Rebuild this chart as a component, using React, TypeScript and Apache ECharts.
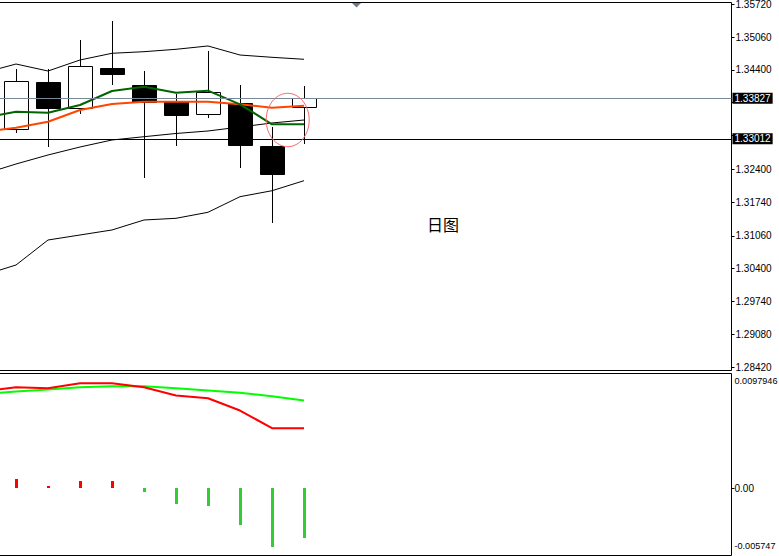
import React, { useEffect, useRef } from 'react';
import * as echarts from 'echarts';

// ---- candles (bars 0..9) ----
const barX = [0, 1, 2, 3, 4, 5, 6, 7, 8, 9];
const opens = [1.33204, 1.34156, 1.33639, 1.34432, 1.34096, 1.33774, 1.33506, 1.33727, 1.32868, 1.33647];
const closes = [1.34176, 1.33639, 1.34478, 1.34323, 1.33760, 1.33498, 1.33949, 1.32894, 1.32299, 1.33827];
const lows = [1.33136, 1.32854, 1.33518, 1.34096, 1.32230, 1.32874, 1.33438, 1.32431, 1.31324, 1.32902];
const highs = [1.34418, 1.34412, 1.35001, 1.35384, 1.34377, 1.33909, 1.34780, 1.34096, 1.33256, 1.34076];

// ---- indicators (bars -1..9, bar -1 is off-screen) ----
const lineX = [-1, 0, 1, 2, 3, 4, 5, 6, 7, 8, 9];
const bbUpper = [1.34345, 1.34518, 1.34377, 1.34599, 1.34734, 1.34766, 1.34814, 1.34881, 1.34699, 1.34653, 1.34613];
const bbMiddle = [1.32305, 1.32506, 1.32687, 1.32848, 1.32989, 1.33055, 1.33120, 1.33170, 1.33250, 1.33331, 1.33391];
const bbLower = [1.30272, 1.30473, 1.30976, 1.31077, 1.31178, 1.31379, 1.31413, 1.31534, 1.31848, 1.31968, 1.32170];
const maGreen = [1.33432, 1.33558, 1.33538, 1.33693, 1.33975, 1.34061, 1.33941, 1.33981, 1.33707, 1.33305, 1.33305];
const maOrange = [1.33150, 1.33236, 1.33357, 1.33593, 1.33713, 1.33760, 1.33760, 1.33760, 1.33707, 1.33639, 1.33679];

const oscRed = [0.008258, 0.008625, 0.008539, 0.008966, 0.008966, 0.008625, 0.007916, 0.007686, 0.006635, 0.005124, 0.005124];
const oscGreen = [0.008044, 0.008258, 0.008428, 0.008625, 0.008710, 0.008710, 0.008539, 0.008343, 0.008147, 0.007856, 0.007489];
const oscHist = [0.000769, 0.000196, 0.000598, 0.000598, -0.000342, -0.001366, -0.001537, -0.003159, -0.005038, -0.00427];

// ---- axes / levels ----
const priceTicks = [1.35720, 1.35060, 1.34400, 1.33740, 1.33080, 1.32400, 1.31740, 1.31060, 1.30400, 1.29740, 1.29080, 1.28420];
const hiddenPriceLabels = [1.33740, 1.33080];
const priceMin = 1.28350;
const priceMax = 1.35756;
const bidPrice = 1.33827;
const hLinePrice = 1.33012;
const oscTicks = [0.0097946, 0, -0.005747];
const oscTickLabels = ['0.0097946', '0.00', '-0.005747'];
const oscTickStyles = ['top', 'mid', 'bot'];
const chartLabel = '日图';

const FONT = 'Liberation Sans';

export default function App() {
  const ref = useRef<HTMLDivElement>(null);

  useEffect(() => {
    if (!ref.current) return;
    const chart = echarts.init(ref.current, null, { renderer: 'svg' });

    const gridLeft = -3;
    const gridRight = 47.5;
    const gridWidth = 779 - gridRight - gridLeft;
    const xMin = (gridLeft - 16) / 32;
    const xMax = xMin + gridWidth / 32;

    const candleData = barX.map((x, i) => [x, opens[i], closes[i], lows[i], highs[i]]);
    const histData = barX.map((x, i) => [x, oscHist[i]]);
    const toLine = (arr: number[]) => lineX.map((x, i) => [x, arr[i]]);

    const lineSeries = (name: string, arr: number[], color: string, width: number, xi: number) => ({
      name,
      type: 'line',
      xAxisIndex: xi,
      yAxisIndex: xi,
      data: toLine(arr),
      showSymbol: false,
      symbol: 'none',
      silent: true,
      clip: true,
      z: 3,
      lineStyle: { color, width },
    });

    const mlLabel = (v: number) => ({
      show: true,
      position: 'end',
      distance: 1,
      formatter: v.toFixed(5),
      color: '#fff',
      backgroundColor: '#000',
      padding: [1, 2, 0, 2],
      fontSize: 10,
      lineHeight: 10,
      fontFamily: FONT,
    });

    const gridBase = {
      left: gridLeft,
      right: gridRight,
      show: true,
      borderColor: '#000',
      borderWidth: 1,
      backgroundColor: 'transparent',
      containLabel: false,
      outerBoundsMode: 'none',
    };

    const option: any = {
      animation: false,
      backgroundColor: '#fff',
      textStyle: { fontFamily: FONT },
      grid: [
        { ...gridBase, top: 2.5, height: 368 },
        { ...gridBase, top: 373.5, height: 182 },
      ],
      xAxis: [
        { type: 'value', gridIndex: 0, min: xMin, max: xMax, show: false, splitLine: { show: false } },
        { type: 'value', gridIndex: 1, min: xMin, max: xMax, show: false, splitLine: { show: false } },
      ],
      yAxis: [
        {
          type: 'value',
          gridIndex: 0,
          position: 'right',
          min: priceMin,
          max: priceMax,
          splitLine: { show: false },
          axisLine: { show: false, onZero: false },
          axisTick: { show: true, length: 3, lineStyle: { color: '#000' }, customValues: priceTicks },
          axisLabel: {
            customValues: priceTicks.filter((t) => !hiddenPriceLabels.includes(t)),
            formatter: (v: number) => v.toFixed(5),
            margin: 4,
            fontSize: 10,
            fontFamily: FONT,
            color: '#000',
          },
        },
        {
          type: 'value',
          gridIndex: 1,
          position: 'right',
          min: oscTicks[2],
          max: oscTicks[0],
          splitLine: { show: false },
          axisLine: { show: false, onZero: false },
          axisTick: { show: true, length: 3, lineStyle: { color: '#000' }, customValues: [0] },
          axisLabel: {
            customValues: oscTicks,
            formatter: (v: number) => {
              let idx = 0;
              let best = Infinity;
              oscTicks.forEach((t, i) => {
                const d = Math.abs(t - v);
                if (d < best) { best = d; idx = i; }
              });
              return '{' + oscTickStyles[idx] + '|' + oscTickLabels[idx] + '}';
            },
            margin: 3,
            fontSize: 10,
            fontFamily: FONT,
            color: '#000',
            rich: {
              top: { fontSize: 9.1, fontFamily: FONT, color: '#000', lineHeight: 24, verticalAlign: 'bottom' },
              mid: { fontSize: 10, fontFamily: FONT, color: '#000' },
              bot: { fontSize: 9.1, fontFamily: FONT, color: '#000', lineHeight: 28, verticalAlign: 'top' },
            },
          },
        },
      ],
      series: [
        {
          name: 'levels',
          type: 'line',
          xAxisIndex: 0,
          yAxisIndex: 0,
          data: [[xMin, bidPrice]],
          symbol: 'none',
          silent: true,
          z: 1,
          lineStyle: { width: 0 },
          markLine: {
            silent: true,
            symbol: ['none', 'none'],
            precision: 5,
            animation: false,
            data: [
              { yAxis: bidPrice, lineStyle: { color: '#778899', width: 1, type: 'solid' }, label: mlLabel(bidPrice) },
              { yAxis: hLinePrice, lineStyle: { color: '#000', width: 1, type: 'solid' }, label: mlLabel(hLinePrice) },
            ],
          },
        },
        {
          name: 'candles',
          type: 'custom',
          xAxisIndex: 0,
          yAxisIndex: 0,
          z: 2,
          silent: true,
          clip: true,
          encode: { x: 0, y: [1, 2, 3, 4] },
          data: candleData,
          renderItem: (params: any, api: any) => {
            const x = api.value(0);
            const o = api.value(1);
            const c = api.value(2);
            const l = api.value(3);
            const h = api.value(4);
            const pH = api.coord([x, h]);
            const pL = api.coord([x, l]);
            const pO = api.coord([x, o]);
            const pC = api.coord([x, c]);
            const half = Math.round(api.size([1, 0])[0] * 0.375);
            const cx = Math.round(pH[0]) + 0.5;
            const top = Math.round(Math.min(pO[1], pC[1])) + 0.5;
            let bottom = Math.round(Math.max(pO[1], pC[1])) + 0.5;
            if (bottom - top < 1) bottom = top + 1;
            const bull = c >= o;
            return {
              type: 'group',
              children: [
                {
                  type: 'line',
                  shape: { x1: cx, y1: Math.round(pH[1]), x2: cx, y2: Math.round(pL[1]) },
                  style: { stroke: '#000', lineWidth: 1 },
                },
                {
                  type: 'rect',
                  shape: { x: cx - half, y: top, width: half * 2, height: bottom - top },
                  style: { fill: bull ? '#fff' : '#000', stroke: '#000', lineWidth: 1 },
                },
              ],
            };
          },
        },
        lineSeries('bbUpper', bbUpper, '#000', 1, 0),
        lineSeries('bbMiddle', bbMiddle, '#000', 1, 0),
        lineSeries('bbLower', bbLower, '#000', 1, 0),
        lineSeries('maOrange', maOrange, '#ff4500', 2, 0),
        lineSeries('maGreen', maGreen, '#006400', 2, 0),
        {
          name: 'hist',
          type: 'custom',
          xAxisIndex: 1,
          yAxisIndex: 1,
          z: 2,
          silent: true,
          encode: { x: 0, y: 1 },
          data: histData,
          renderItem: (params: any, api: any) => {
            const x = api.value(0);
            const v = api.value(1);
            const p0 = api.coord([x, 0]);
            const p1 = api.coord([x, v]);
            const y0 = Math.round(p0[1]);
            const y1 = Math.round(p1[1]);
            const cx = Math.round(p0[0]);
            return {
              type: 'rect',
              shape: { x: cx - 1, y: Math.min(y0, y1), width: 3, height: Math.max(1, Math.abs(y1 - y0)) },
              style: { fill: v >= 0 ? '#ff0000' : '#32cd32' },
            };
          },
        },
        lineSeries('oscGreen', oscGreen, '#00ff00', 2, 1),
        lineSeries('oscRed', oscRed, '#ff0000', 2, 1),
      ],
      graphic: [
        {
          type: 'polygon',
          silent: true,
          shape: { points: [[352, 3], [361, 3], [356.5, 7.5]] },
          style: { fill: '#6d7b8d' },
          z: 100,
        },
        {
          type: 'ellipse',
          silent: true,
          shape: { cx: 287.7, cy: 120, rx: 21.5, ry: 26.7 },
          style: { fill: 'none', stroke: '#f36a6a', lineWidth: 1 },
          z: 100,
        },
        {
          type: 'text',
          silent: true,
          left: 427,
          top: 216,
          style: { text: chartLabel, font: '16px "Noto Sans CJK SC"', fill: '#000' },
          z: 100,
        },
      ],
    };

    chart.setOption(option);
    return () => chart.dispose();
  }, []);

  return (
    <div
      ref={ref}
      style={{ position: 'fixed', left: 0, top: 0, width: 779, height: 556, background: '#fff' }}
    />
  );
}
